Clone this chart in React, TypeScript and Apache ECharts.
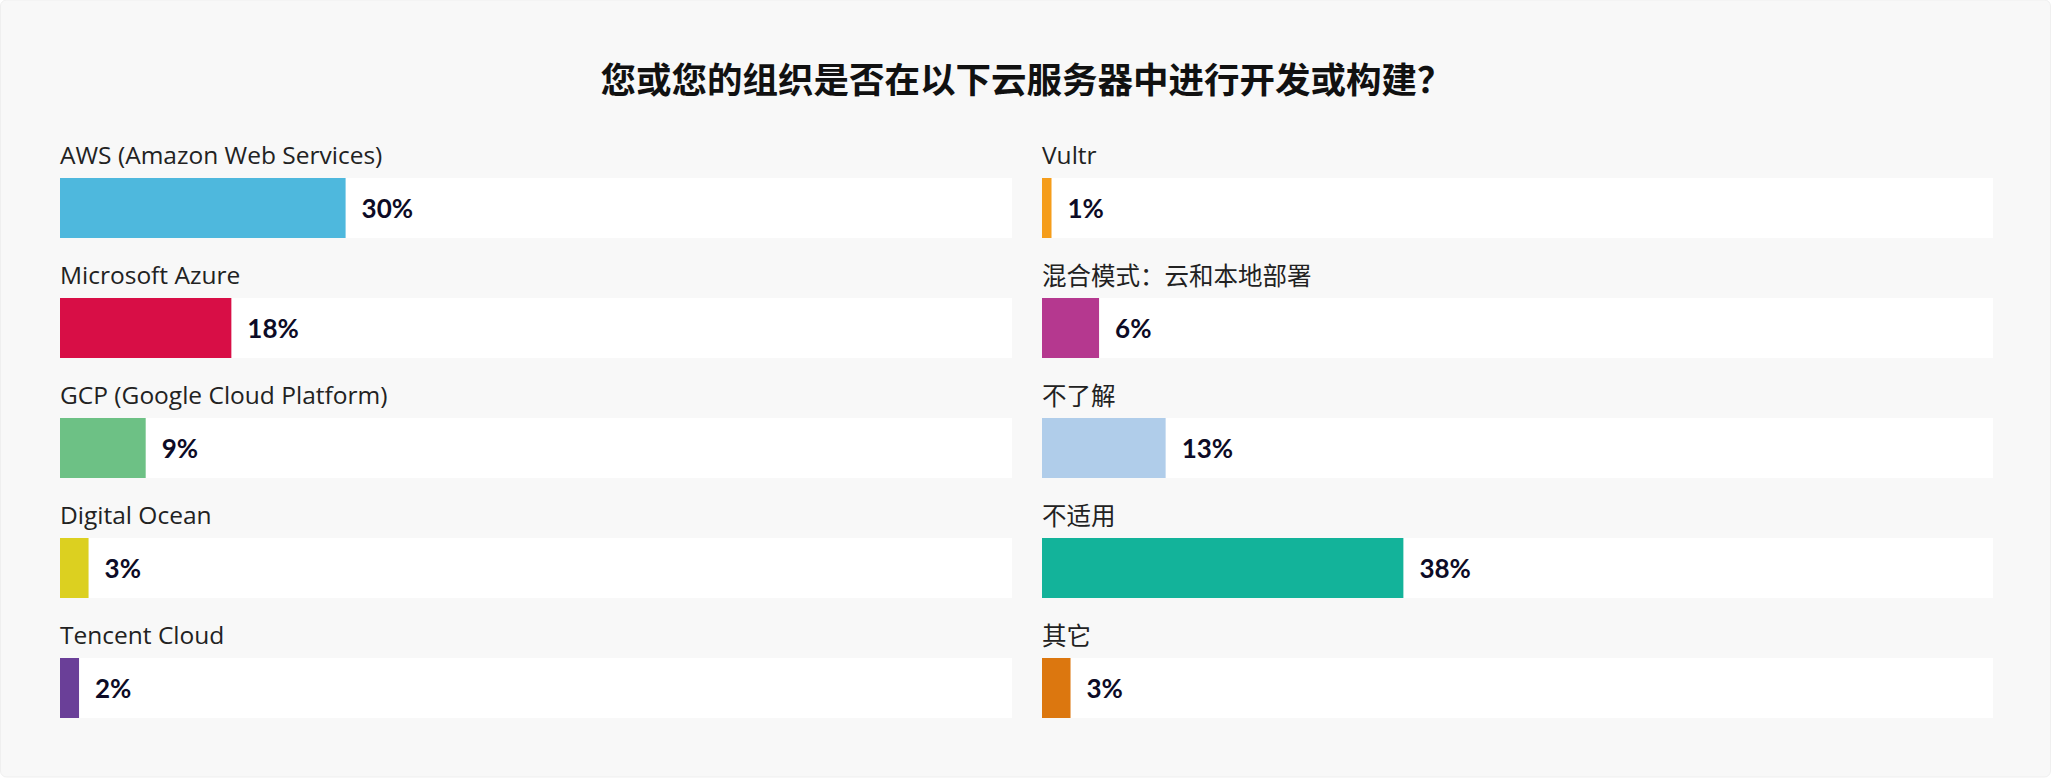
import {useEffect, useRef} from 'react';
import * as echarts from 'echarts';

const TITLE = '您或您的组织是否在以下云服务器中进行开发或构建？';

const leftCategories = ['AWS (Amazon Web Services)', 'Microsoft Azure', 'GCP (Google Cloud Platform)', 'Digital Ocean', 'Tencent Cloud'];
const leftValues = [30, 18, 9, 3, 2];
const leftColors = ['#4eb8dd', '#d80e46', '#6dc185', '#dcd020', '#6a3f98'];

const rightCategories = ['Vultr', '混合模式：云和本地部署', '不了解', '不适用', '其它'];
const rightValues = [1, 6, 13, 38, 3];
const rightColors = ['#f59d1b', '#b5388f', '#b0cdea', '#13b39a', '#dc770f'];

const FONT = "Lato, 'Noto Sans CJK SC', sans-serif";
const LABEL_FONT = "'Open Sans', 'Noto Sans CJK SC', sans-serif";

const App = () => {
    const chartRef = useRef<HTMLDivElement>(null);

    useEffect(() => {
        document.body.style.margin = '0';
        const myChart = echarts.init(chartRef.current!, null, {renderer: 'svg'});

        const grids = [
            {left: 60, top: 148, width: 952, height: 600},
            {left: 1042, top: 148, width: 951, height: 600},
        ];

        const makeSeries = (idx: number, values: number[], colors: string[]) => ({
            type: 'bar',
            xAxisIndex: idx,
            yAxisIndex: idx,
            barWidth: 60,
            showBackground: true,
            backgroundStyle: {color: '#ffffff'},
            data: values.map((v, i) => ({value: v, itemStyle: {color: colors[i]}})),
            label: {
                show: true,
                position: 'right',
                distance: 16,
                formatter: '{c}%',
                fontFamily: FONT,
                fontSize: 26,
                fontWeight: 'bold',
                color: '#0d0b26',
            },
        });

        // category name sits above its bar: a spacer line below the name lifts it
        const makeY = (idx: number, cats: string[]) => ({
            type: 'category',
            gridIndex: idx,
            inverse: true,
            data: cats,
            z: 5,
            axisLine: {show: false},
            axisTick: {show: false},
            splitLine: {show: false},
            axisLabel: {
                inside: true,
                margin: 0,
                interval: 0,
                align: 'left',
                verticalAlign: 'middle',
                formatter: (v: string) => (/[\u4e00-\u9fff]/.test(v) ? `{c|${v}}\n{s| }` : `{n|${v}}\n{s| }`),
                rich: {
                    n: {
                        fontFamily: LABEL_FONT,
                        fontSize: 24.5,
                        lineHeight: 28,
                        color: '#222222',
                    },
                    c: {
                        fontFamily: "'Noto Sans CJK SC', sans-serif",
                        fontSize: 24.5,
                        lineHeight: 28,
                        color: '#222222',
                    },
                    s: {fontSize: 10, lineHeight: 108, height: 108},
                },
            },
        });

        myChart.setOption({
            animation: false,
            backgroundColor: '#ffffff',
            textStyle: {fontFamily: FONT},
            graphic: [
                {
                    type: 'rect',
                    silent: true,
                    z: -10,
                    shape: {x: 0.5, y: 0, width: 2050, height: 777, r: 6},
                    style: {fill: '#f8f8f8', stroke: '#efefef', lineWidth: 1},
                },
            ],
            title: {
                text: TITLE,
                left: 'center',
                top: 55,
                textStyle: {
                    fontFamily: "'Noto Sans CJK SC', sans-serif",
                    fontSize: 35.5,
                    fontWeight: 'bold',
                    color: '#111111',
                },
            },
            tooltip: {show: false},
            grid: grids,
            xAxis: [0, 1].map((i) => ({
                type: 'value',
                gridIndex: i,
                min: 0,
                max: 100,
                show: false,
            })),
            yAxis: [makeY(0, leftCategories), makeY(1, rightCategories)],
            series: [makeSeries(0, leftValues, leftColors), makeSeries(1, rightValues, rightColors)],
        });

        return () => {
            myChart.dispose();
        };
    }, []);

    return <div ref={chartRef} style={{width: '2053px', height: '779px'}} />;
};

export default App;
